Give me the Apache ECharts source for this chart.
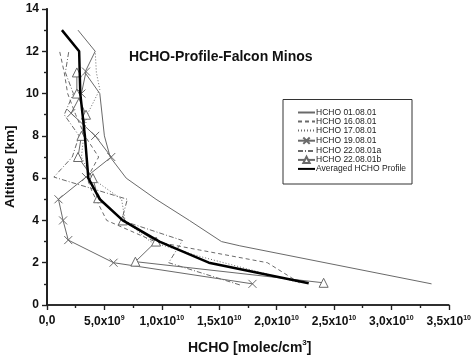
<!DOCTYPE html>
<html><head><meta charset="utf-8">
<script src="https://cdn.jsdelivr.net/npm/echarts@6/dist/echarts.min.js"></script>
<style>html,body{margin:0;padding:0;background:#fff}#c{width:474px;height:359px}</style>
</head><body><div id="c"></div>
<script>
// x values in units of 1e9 molec/cm3, altitude in km
var xTicks = [0, 5, 10, 15, 20, 25, 30, 35];
var xTickLabels = ['0,0', '5,0x10|9', '1,0x10|10', '1,5x10|10', '2,0x10|10', '2,5x10|10', '3,0x10|10', '3,5x10|10'];
var yTicks = [0, 2, 4, 6, 8, 10, 12, 14];

var names = ['HCHO 01.08.01', 'HCHO 16.08.01', 'HCHO 17.08.01', 'HCHO 19.08.01', 'HCHO 22.08.01a', 'HCHO 22.08.01b', 'Averaged HCHO Profile'];

var alt01 = [1.0, 2.8, 3.0, 4.0, 5.0, 6.0, 7.0, 8.0, 10.0, 11.0, 12.0, 13.0];
var hcho01 = [33.5, 16.8, 15.2, 12.4, 9.5, 6.9, 5.5, 5.0, 4.6, 3.3, 4.2, 2.7];

var alt16 = [1.05, 2.0, 2.6, 3.0, 4.0, 5.4, 6.0, 7.0, 8.0, 9.0, 10.0, 11.0, 12.0];
var hcho16 = [22.0, 19.2, 13.3, 9.4, 5.2, 3.9, 3.5, 4.5, 3.3, 2.5, 1.8, 1.5, 1.1];

var alt17 = [1.1, 2.3, 3.0, 4.0, 5.0, 6.0, 7.0, 8.0, 9.0, 10.2, 11.0, 12.0];
var hcho17 = [21.7, 13.3, 9.0, 6.8, 6.5, 3.9, 3.0, 3.2, 3.5, 4.6, 4.3, 4.2];

var alt19 = [1.0, 2.0, 3.07, 4.0, 5.0, 6.05, 7.0, 8.0, 9.07, 10.0, 11.04];
var hcho19 = [17.9, 5.8, 1.85, 1.4, 1.0, 3.4, 5.6, 4.2, 2.1, 3.0, 3.4];

var alt22a = [0.95, 2.0, 3.05, 4.0, 5.0, 6.05, 7.0, 8.0, 9.0, 10.0, 11.0, 12.0];
var hcho22a = [16.8, 10.6, 11.8, 6.5, 7.0, 0.6, 2.2, 2.8, 1.5, 2.3, 1.6, 1.9];

var alt22b = [1.05, 2.05, 3.0, 4.0, 5.05, 6.0, 7.0, 8.0, 9.0, 10.0, 11.0];
var hcho22b = [24.1, 7.7, 9.5, 6.6, 4.45, 4.0, 2.7, 3.0, 3.4, 2.6, 2.6];

var altAvg = [1.03, 2.0, 3.0, 4.0, 5.0, 6.0, 8.0, 10.0, 12.0, 13.0];
var hchoAvg = [22.8, 14.1, 9.8, 6.6, 4.6, 3.6, 3.3, 2.9, 2.8, 1.3];

function pairs(xs, ys) { return xs.map(function (v, i) { return [v, ys[i]]; }); }

var gray = '#6a6a6a';
var xPath = 'path://M0,0L10,10M10,0L0,10';

function mk(name, xs, ys, dash, symbol) {
  var s = {
    name: name, type: 'line', data: pairs(xs, ys), silent: true, animation: false,
    lineStyle: { color: gray, width: 1, type: dash },
    itemStyle: { color: gray },
    symbol: 'none', z: 3
  };
  if (symbol === 'x') {
    s.symbol = xPath; s.symbolSize = 8; s.showSymbol = true;
    s.itemStyle = { color: 'none', borderColor: gray, borderWidth: 1 };
  } else if (symbol === 'tri') {
    s.symbol = 'triangle'; s.symbolSize = 9; s.showSymbol = true;
    s.itemStyle = { color: '#fff', borderColor: gray, borderWidth: 1 };
  }
  return s;
}

var series = [
  mk(names[0], hcho01, alt01, 'solid'),
  mk(names[1], hcho16, alt16, [4, 3]),
  mk(names[2], hcho17, alt17, [1, 2]),
  mk(names[3], hcho19, alt19, 'solid', 'x'),
  mk(names[4], hcho22a, alt22a, [5, 2, 1, 2]),
  mk(names[5], hcho22b, alt22b, 'solid', 'tri'),
  {
    name: names[6], type: 'line', data: pairs(hchoAvg, altAvg), silent: true, animation: false,
    symbol: 'none', z: 5, lineStyle: { color: '#000', width: 2.5 }, itemStyle: { color: '#000' }
  }
];

var hiddenIcon = { color: 'rgba(0,0,0,0)', borderColor: 'rgba(0,0,0,0)', borderWidth: 0, opacity: 0 };
var legendData = names.map(function (n, i) {
  var d = { name: n };
  if (i !== 3 && i !== 5) d.itemStyle = hiddenIcon;
  return d;
});

var labelIdx = {};
xTicks.forEach(function (t, i) { labelIdx[t] = xTickLabels[i]; });

var chart = echarts.init(document.getElementById('c'), null, { renderer: 'canvas' });
var fontFam = 'Liberation Sans, Arial, sans-serif';
chart.setOption({
  backgroundColor: '#fff',
  animation: false,
  grid: { left: 47, right: 24, top: 9, bottom: 54, containLabel: false },
  title: {
    text: 'HCHO-Profile-Falcon Minos', left: 124, top: 45,
    textStyle: { fontFamily: fontFam, fontWeight: 'bold', fontSize: 14, color: '#111' }
  },
  legend: {
    orient: 'vertical', left: 297, top: 108, itemWidth: 17, itemHeight: 8, itemGap: 0,
    padding: 0, data: legendData,
    textStyle: { fontFamily: fontFam, fontSize: 8.5, lineHeight: 8, color: '#222', padding: [0, 0, 0, -4] },
    selectedMode: false
  },
  graphic: [{
    type: 'rect', shape: { x: 283, y: 99.5, width: 129, height: 84.5 },
    style: { fill: 'none', stroke: '#333', lineWidth: 1 }, z: 100
  }, {
    type: 'text', left: 188, top: 339,
    style: {
      text: '{a|HCHO [molec/cm}{s|3}{a|]}',
      rich: {
        a: { fontFamily: fontFam, fontWeight: 'bold', fontSize: 14, fill: '#111', verticalAlign: 'bottom' },
        s: { fontFamily: fontFam, fontWeight: 'bold', fontSize: 8, fill: '#111', verticalAlign: 'top', padding: [0, 0, 8, 0] }
      }
    }
  }, {
    type: 'text', rotation: Math.PI / 2, x: 3, y: 208,
    style: { text: 'Altitude [km]', fontFamily: fontFam, fontWeight: 'bold', fontSize: 13.5, fill: '#111' }
  }],
  xAxis: [{
    type: 'value', min: 0, max: 35, interval: 5, position: 'bottom',
    axisLine: { show: true, lineStyle: { color: '#222', width: 1.5 } },
    axisTick: { show: true, length: 5, lineStyle: { color: '#222', width: 1.2 } },
    minorTick: { show: true, splitNumber: 2, length: 3, lineStyle: { color: '#222', width: 1.2 } },
    splitLine: { show: false },
    axisLabel: {
      margin: 10,
      formatter: function (v) {
        var l = labelIdx[v]; if (!l) return '';
        var p = l.split('|');
        return p.length > 1 ? '{a|' + p[0] + '}{s|' + p[1] + '}' : '{a|' + p[0] + '}';
      },
      rich: {
        a: { fontFamily: fontFam, fontWeight: 'bold', fontSize: 12, color: '#111' },
        s: { fontFamily: fontFam, fontWeight: 'bold', fontSize: 7, color: '#111', verticalAlign: 'top', padding: [0, 0, 7, 0] }
      }
    }
  }, {
    type: 'value', min: 0, max: 35, interval: 5, position: 'top',
    axisLine: { show: true, lineStyle: { color: '#222', width: 1.5 } },
    axisTick: { show: true, inside: true, length: 5, lineStyle: { color: '#222', width: 1.2 } },
    minorTick: { show: true, splitNumber: 2, length: 3, lineStyle: { color: '#222', width: 1.2 } },
    splitLine: { show: false }, axisLabel: { show: false }
  }],
  yAxis: [{
    type: 'value', min: 0, max: 14, interval: 2, position: 'left',
    axisLine: { show: true, lineStyle: { color: '#222', width: 2 } },
    axisTick: { show: true, length: 5, lineStyle: { color: '#222', width: 1.2 } },
    minorTick: { show: true, splitNumber: 2, length: 3, lineStyle: { color: '#222', width: 1.2 } },
    splitLine: { show: false },
    axisLabel: { margin: 8, fontFamily: fontFam, fontWeight: 'bold', fontSize: 12, color: '#111' }
  }, {
    type: 'value', min: 0, max: 14, interval: 2, position: 'right',
    axisLine: { show: true, lineStyle: { color: '#222', width: 1.5 } },
    axisTick: { show: true, inside: true, length: 5, lineStyle: { color: '#222', width: 1.2 } },
    minorTick: { show: true, splitNumber: 2, length: 3, lineStyle: { color: '#222', width: 1.2 } },
    splitLine: { show: false }, axisLabel: { show: false }
  }],
  series: series
});
</script></body></html>
